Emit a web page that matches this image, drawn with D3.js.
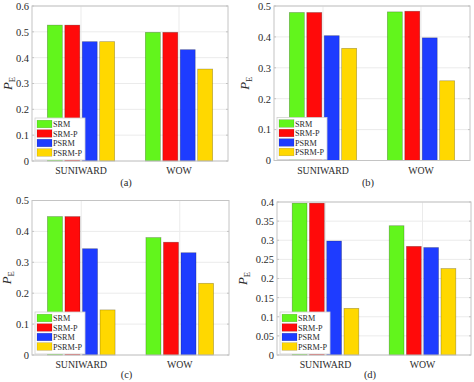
<!DOCTYPE html>
<html>
<head>
<meta charset="utf-8">
<script src="https://cdn.jsdelivr.net/npm/d3@7/dist/d3.min.js"></script>
<style>
  html, body { margin: 0; padding: 0; background: #fff; }
  svg { display: block; }
  svg text { font-family: "Liberation Serif", "DejaVu Serif", serif !important; fill: #2b2b2b; }
</style>
</head>
<body>
<svg id="chart" width="474" height="382"></svg>
<script>
// ---- data ----
const categories = ["SUNIWARD", "WOW"];
const seriesNames = ["SRM", "SRM-P", "PSRM", "PSRM-P"];
const seriesColors = ["#62f51c", "#ff0a0a", "#1e3cff", "#ffd800"];

// values per category (rows) for each series (columns)
const valuesA = [[0.526, 0.526, 0.462, 0.462], [0.498, 0.498, 0.431, 0.356]];
const valuesB = [[0.479, 0.479, 0.404, 0.363], [0.481, 0.483, 0.397, 0.258]];
const valuesC = [[0.448, 0.448, 0.344, 0.146], [0.380, 0.365, 0.331, 0.232]];
const valuesD = [[0.397, 0.397, 0.298, 0.122], [0.338, 0.284, 0.281, 0.226]];

const ticksA = [0, 0.1, 0.2, 0.3, 0.4, 0.5, 0.6];
const ticksB = [0, 0.1, 0.2, 0.3, 0.4, 0.5];
const ticksC = [0, 0.1, 0.2, 0.3, 0.4, 0.5];
const ticksD = [0, 0.05, 0.1, 0.15, 0.2, 0.25, 0.3, 0.35, 0.4];

const panelLabels = ["(a)", "(b)", "(c)", "(d)"];

// ---- layout ----
const panels = [
  { values: valuesA, ticks: ticksA, ymax: 0.6, label: panelLabels[0], left: 32, right: 228, top: 6, bottom: 161, ylabX: 12, catY: 174, subY: 185.5 },
  { values: valuesB, ticks: ticksB, ymax: 0.5, label: panelLabels[1], left: 274, right: 470, top: 6, bottom: 160.5, ylabX: 249, catY: 174, subY: 185.5 },
  { values: valuesC, ticks: ticksC, ymax: 0.5, label: panelLabels[2], left: 32, right: 229, top: 200.5, bottom: 355, ylabX: 11, catY: 367.5, subY: 378 },
  { values: valuesD, ticks: ticksD, ymax: 0.4, label: panelLabels[3], left: 277, right: 471, top: 202, bottom: 355, ylabX: 247, catY: 367.5, subY: 378 }
];

const FONT = '"Liberation Serif", "DejaVu Serif", serif';
const svg = d3.select("#chart");

function drawPanel(p) {
  const g = svg.append("g");
  const x = d3.scaleLinear().domain([0.5, 2.5]).range([p.left, p.right]);
  const y = d3.scaleLinear().domain([0, p.ymax]).range([p.bottom, p.top]);
  const slot = 0.178, bw = 0.153;

  // grid
  g.selectAll("line.hg").data(p.ticks).enter().append("line")
    .attr("x1", p.left).attr("x2", p.right)
    .attr("y1", d => y(d)).attr("y2", d => y(d))
    .attr("stroke", "#ebebeb").attr("stroke-width", 1);
  g.selectAll("line.vg").data(categories).enter().append("line")
    .attr("x1", (d, i) => x(i + 1)).attr("x2", (d, i) => x(i + 1))
    .attr("y1", p.top).attr("y2", p.bottom)
    .attr("stroke", "#ebebeb").attr("stroke-width", 1);

  // bars
  categories.forEach((c, ci) => {
    seriesNames.forEach((s, si) => {
      const cx = (ci + 1) + (si - 1.5) * slot;
      const v = p.values[ci][si];
      g.append("rect")
        .attr("x", x(cx - bw / 2)).attr("width", x(cx + bw / 2) - x(cx - bw / 2))
        .attr("y", y(v)).attr("height", y(0) - y(v))
        .attr("fill", seriesColors[si])
        .attr("stroke", "rgba(0,0,0,0.3)").attr("stroke-width", 0.7);
    });
  });

  // box
  g.append("rect").attr("x", p.left).attr("y", p.top)
    .attr("width", p.right - p.left).attr("height", p.bottom - p.top)
    .attr("fill", "none").attr("stroke", "#c4c4c4").attr("stroke-width", 1);

  // y axis via d3
  const yAxis = d3.axisLeft(y).tickValues(p.ticks).tickSize(0).tickPadding(3)
    .tickFormat(d => d3.format("")(+d.toFixed(2)));
  const ya = g.append("g").attr("transform", `translate(${p.left},0)`).call(yAxis);
  ya.attr("font-family", FONT);
  ya.select(".domain").remove();
  ya.selectAll("text").attr("font-size", 10.5).attr("fill", "#2b2b2b");

  // inner ticks left & right
  g.selectAll("line.tl").data(p.ticks).enter().append("line")
    .attr("x1", p.left).attr("x2", p.left + 2).attr("y1", d => y(d)).attr("y2", d => y(d))
    .attr("stroke", "#c4c4c4");
  g.selectAll("line.tr").data(p.ticks).enter().append("line")
    .attr("x1", p.right - 2).attr("x2", p.right).attr("y1", d => y(d)).attr("y2", d => y(d))
    .attr("stroke", "#c4c4c4");

  // x category labels
  g.selectAll("text.cat").data(categories).enter().append("text")
    .attr("x", (d, i) => x(i + 1)).attr("y", p.catY)
    .attr("text-anchor", "middle").attr("font-size", 9.8).attr("font-family", FONT)
    .text(d => d);

  // sub label
  g.append("text").attr("x", (p.left + p.right) / 2 - 4).attr("y", p.subY)
    .attr("text-anchor", "middle").attr("font-size", 10.5).attr("font-family", FONT).text(p.label);

  // y label P_E
  const yl = g.append("text")
    .attr("transform", `translate(${p.ylabX},${(p.top + p.bottom) / 2}) rotate(-90)`)
    .attr("text-anchor", "middle").attr("font-size", 13).attr("font-family", FONT);
  yl.append("tspan").attr("font-style", "italic").text("P");
  yl.append("tspan").attr("font-size", 8.5).attr("dy", 3).text("E");

  // legend
  const lx = p.left + 3, lyB = p.bottom - 0.5;
  const lg = g.append("g");
  lg.append("rect").attr("x", lx).attr("y", lyB - 42.5).attr("width", 50).attr("height", 42)
    .attr("fill", "#fff").attr("stroke", "#d0d0d0").attr("stroke-width", 0.8);
  seriesNames.forEach((s, si) => {
    const cy = lyB - 36.5 + si * 9.5;
    lg.append("rect").attr("x", lx + 2).attr("y", cy - 3.8).attr("width", 15).attr("height", 7.6)
      .attr("fill", seriesColors[si]).attr("stroke", "rgba(0,0,0,0.25)").attr("stroke-width", 0.5);
    lg.append("text").attr("x", lx + 18).attr("y", cy + 3.2).attr("font-size", 8.2)
      .attr("font-family", FONT).text(s);
  });
}

panels.forEach(drawPanel);
</script>
</body>
</html>
